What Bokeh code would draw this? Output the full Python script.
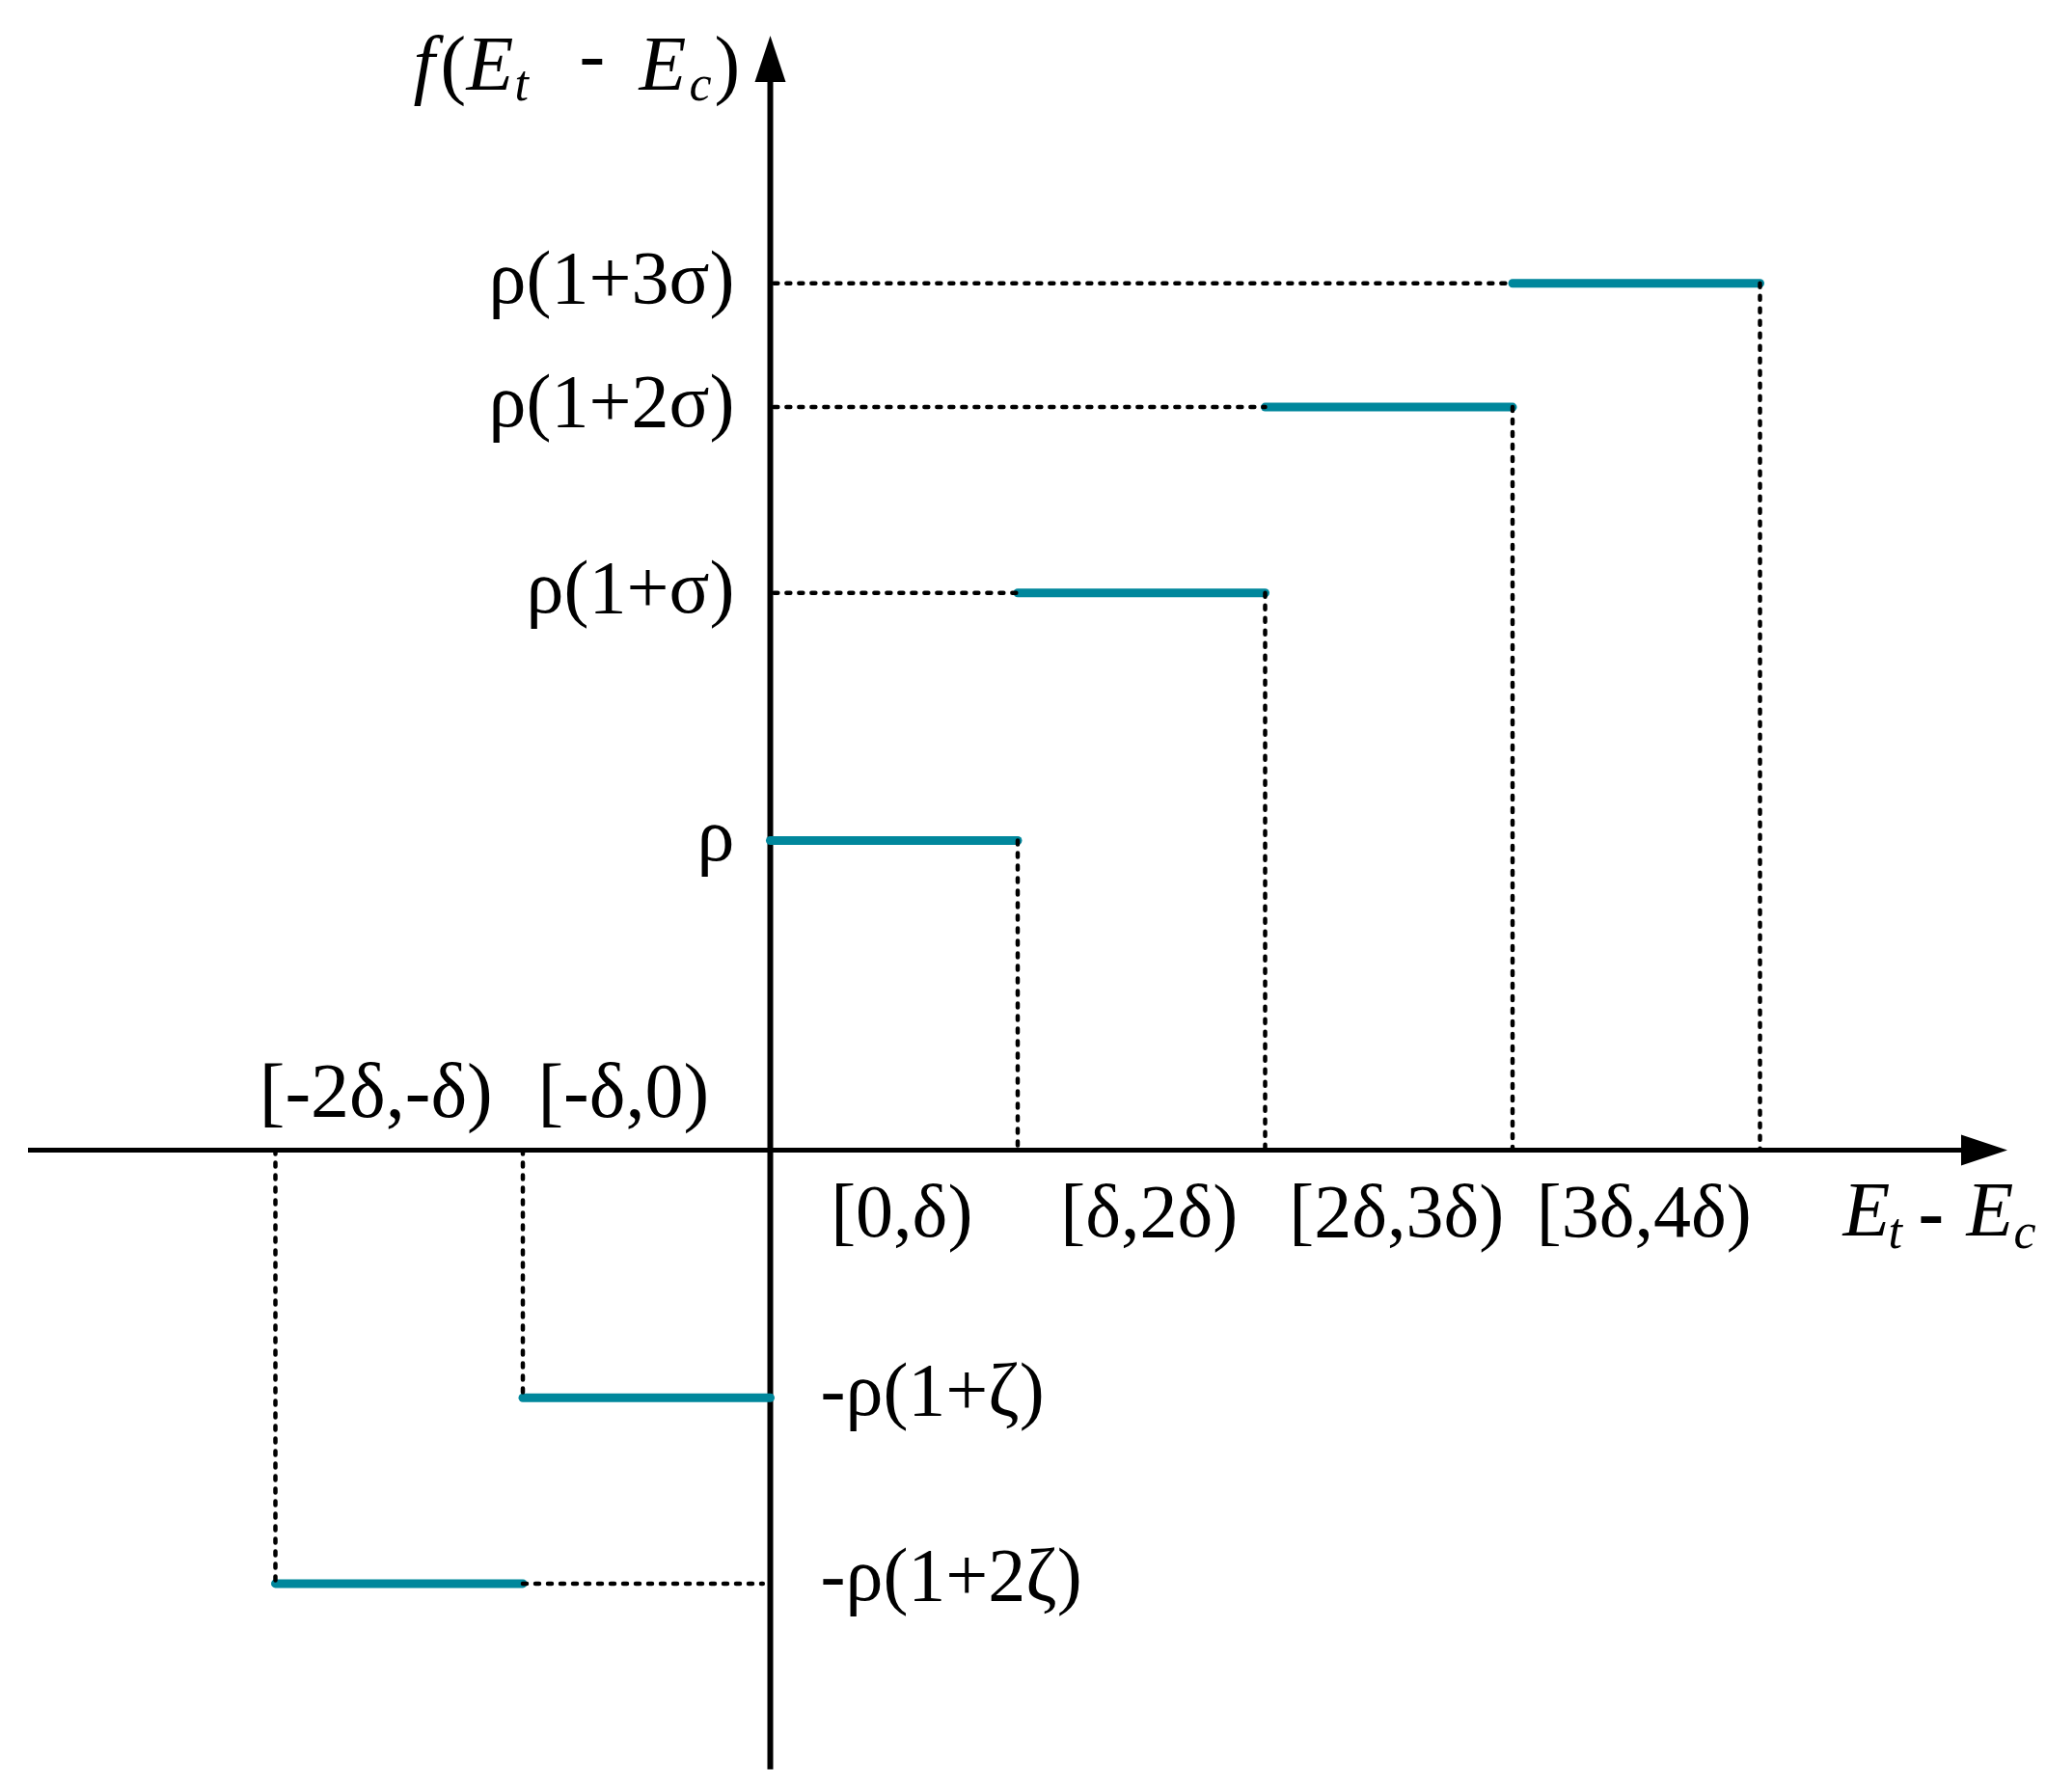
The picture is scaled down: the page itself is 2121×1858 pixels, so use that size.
from bokeh.plotting import figure
from bokeh.models import Range1d
from bokeh.embed import file_html
from bokeh.resources import INLINE
from bokeh.core.properties import value

# ---------------- data (x in units of delta, y in units of rho) ----------------
pos_starts = [0, 1, 2, 3]
pos_levels = [1.0, 1.8, 2.4, 2.8]
pos_level_labels = ["ρ", "ρ(1+σ)", "ρ(1+2σ)", "ρ(1+3σ)"]
pos_interval_labels = ["[0,δ)", "[δ,2δ)", "[2δ,3δ)", "[3δ,4δ)"]

neg_starts = [-1, -2]
neg_levels = [-0.8, -1.4]
neg_level_labels = ["-ρ(1+ζ)", "-ρ(1+2ζ)"]
neg_interval_labels = ["[-δ,0)", "[-2δ,-δ)"]

step_width = 1
x_axis_extent = (-3.0, 5.0)
y_axis_extent = (-2.0, 3.6)

# ---------------- layout ----------------
W, H = 2113, 1850
X0, Y0 = 798, 1192          # pixel position of the origin
DX, DY = 256.5, 321.0       # pixels per delta / per rho
TEAL = "#00879c"
FONT = value("Liberation Serif")
BASE_FIX = 0.4              # baseline correction (fraction of font size)

p = figure(width=W, height=H, output_backend="svg", toolbar_location=None,
           x_axis_type=None, y_axis_type=None, min_border=0,
           x_range=Range1d(-X0 / DX, (W - X0) / DX),
           y_range=Range1d(-(H - Y0) / DY, Y0 / DY))
p.outline_line_color = None
p.background_fill_color = "white"
p.border_fill_color = "white"


def px(page_x):
    return (page_x - X0) / DX


def py(page_y):
    return (Y0 - page_y) / DY


def yoff(desired, size):
    return desired - BASE_FIX * size


# ---------------- axes with arrow heads ----------------
AH_LEN, AH_HALF = 48, 16
xa0, xa1 = x_axis_extent
ya0, ya1 = y_axis_extent
p.segment(x0=[xa0], y0=[0], x1=[xa1 - AH_LEN / DX + 0.02], y1=[0], line_color="black", line_width=5)
p.segment(x0=[0], y0=[ya0], x1=[0], y1=[ya1 - AH_LEN / DY + 0.02], line_color="black", line_width=6)
p.patch(x=[xa1, xa1 - AH_LEN / DX, xa1 - AH_LEN / DX],
        y=[0, AH_HALF / DY, -AH_HALF / DY], color="black", line_width=0)
p.patch(x=[0, -AH_HALF / DX, AH_HALF / DX],
        y=[ya1, ya1 - AH_LEN / DY, ya1 - AH_LEN / DY], color="black", line_width=0)

# ---------------- step segments ----------------
starts = pos_starts + neg_starts
levels = pos_levels + neg_levels
p.segment(x0=starts, y0=levels, x1=[s + step_width for s in starts], y1=levels,
          line_color=TEAL, line_width=9, line_cap="round")

# ---------------- dashed guide lines ----------------
gx0, gy0, gx1, gy1 = [], [], [], []
for s, v in zip(pos_starts, pos_levels):
    if s > 0:                               # horizontal guide from y-axis
        gx0.append(0.015); gy0.append(v); gx1.append(s); gy1.append(v)
    e = s + step_width                      # vertical guide down to x-axis
    gx0.append(e); gy0.append(v); gx1.append(e); gy1.append(0)
for s, v in zip(neg_starts, neg_levels):
    gx0.append(s); gy0.append(0); gx1.append(s); gy1.append(v)
    e = s + step_width
    if e < 0:
        gx0.append(e); gy0.append(v); gx1.append(-0.03); gy1.append(v)
p.segment(x0=gx0, y0=gy0, x1=gx1, y1=gy1, line_color="black",
          line_width=4.5, line_dash="4 9", line_cap="round")

# ---------------- level labels ----------------
LS = 78
p.text(x=[0] * len(pos_levels), y=pos_levels, text=pos_level_labels,
       text_font=FONT, text_font_size=f"{LS}px", text_align="right",
       text_baseline="alphabetic", x_offset=-37, y_offset=yoff(25, LS), text_color="black")
p.text(x=[0] * len(neg_levels), y=neg_levels, text=neg_level_labels,
       text_font=FONT, text_font_size=f"{LS}px", text_align="left",
       text_baseline="alphabetic", x_offset=52, y_offset=yoff(22, LS), text_color="black")

# ---------------- interval labels ----------------
PS = 78
p.text(x=[s + step_width / 2 for s in pos_starts], y=[0] * len(pos_starts),
       text=pos_interval_labels, text_font=FONT, text_font_size=f"{PS}px",
       text_align="center", text_baseline="alphabetic", x_offset=8, y_offset=yoff(94, PS),
       text_color="black")
NS = 80
p.text(x=[s + step_width / 2 for s in neg_starts], y=[0] * len(neg_starts),
       text=neg_interval_labels, text_font=FONT, text_font_size=f"{NS}px",
       text_align="center", text_baseline="alphabetic", x_offset=-24, y_offset=yoff(-30, NS),
       text_color="black")

# ---------------- axis titles (with subscripts) ----------------
# (text, page x, page baseline y, size, style)
title_frags = [
    ("f", 428, 97, 80, "italic"), ("(", 456, 97, 80, "normal"),
    ("E", 483, 97, 80, "italic"), ("t", 533, 107, 52, "italic"),
    ("-", 600, 88, 80, "normal"), ("E", 662, 97, 80, "italic"),
    ("c", 714, 107, 52, "italic"), (")", 740, 97, 80, "normal"),
    ("E", 1910, 1285, 80, "italic"), ("t", 1957, 1297, 52, "italic"),
    ("-", 1988, 1289, 80, "bold"), ("E", 2038, 1285, 80, "italic"),
    ("c", 2087, 1297, 52, "italic"),
]
for t, x, y, s, st in title_frags:
    p.text(x=[px(x)], y=[py(y)], text=[t], text_font=FONT,
           text_font_size=f"{s}px", text_font_style=st, text_align="left",
           text_baseline="alphabetic", y_offset=-BASE_FIX * s, text_color="black")

open("out.html", "w").write(file_html(p, INLINE))
